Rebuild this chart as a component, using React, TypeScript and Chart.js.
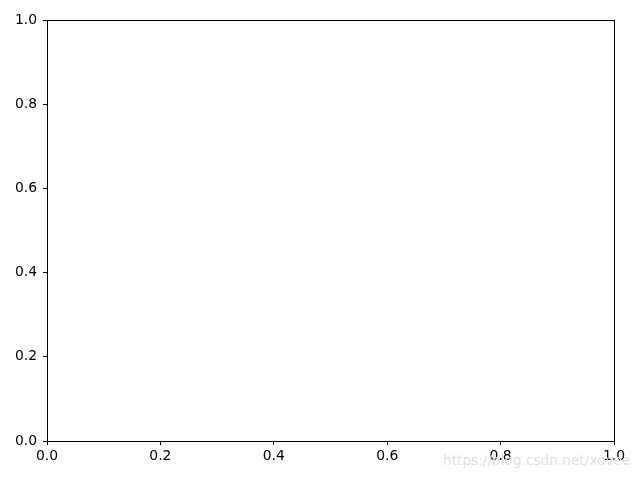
import React, { useRef, useEffect } from 'react'
import { Chart, registerables } from 'chart.js'

Chart.register(...registerables)

// empty axes: only the limits and tick step
const xRange = [0, 1]
const yRange = [0, 1]
const tickStep = 0.2
const points: { x: number; y: number }[] = []
const watermark = 'https://blog.csdn.net/xovee'

const framePlugin = {
  id: 'frame',
  afterDraw(chart: Chart) {
    const { ctx, chartArea } = chart
    ctx.save()
    ctx.strokeStyle = '#000'
    ctx.lineWidth = 1
    ctx.strokeRect(
      Math.round(chartArea.left) + 0.5,
      Math.round(chartArea.top) + 0.5,
      Math.round(chartArea.right - chartArea.left),
      Math.round(chartArea.bottom - chartArea.top)
    )
    ctx.restore()
  },
}

const App: React.FC = () => {
  const canvasRef = useRef<HTMLCanvasElement>(null)

  useEffect(() => {
    if (!canvasRef.current) return
    const ctx = canvasRef.current.getContext('2d')
    if (!ctx) return

    const font = { family: 'DejaVu Sans', size: 13.9 }
    const axisCommon = {
      type: 'linear' as const,
      grid: {
        display: true,
        drawOnChartArea: false,
        drawTicks: true,
        tickLength: 4,
        tickColor: '#000',
        tickWidth: 1,
      },
      border: { display: true, color: '#000', width: 1 },
    }

    const chart = new Chart(ctx, {
      type: 'scatter',
      data: { datasets: [{ data: points }] },
      plugins: [framePlugin],
      options: {
        animation: false,
        responsive: false,
        layout: { padding: { top: 20, right: 26, left: 0, bottom: 0 } },
        plugins: { legend: { display: false }, tooltip: { enabled: false } },
        scales: {
          x: {
            ...axisCommon,
            min: xRange[0],
            max: xRange[1],
            afterFit: (s: any) => {
              s.height = 39
            },
            ticks: {
              stepSize: tickStep,
              color: '#000',
              font,
              padding: 3,
              maxRotation: 0,
              callback: (v: any) => Number(v).toFixed(1),
            },
          },
          y: {
            ...axisCommon,
            min: yRange[0],
            max: yRange[1],
            afterFit: (s: any) => {
              s.width = 47
            },
            ticks: {
              stepSize: tickStep,
              color: '#000',
              font,
              padding: 6,
              callback: (v: any) => Number(v).toFixed(1),
            },
          },
        },
      },
    })

    return () => {
      chart.destroy()
    }
  }, [])

  return (
    <div style={{ position: 'fixed', left: 0, top: 0, width: 640, height: 480, background: '#fff' }}>
      <canvas ref={canvasRef} width={640} height={480} style={{ width: 640, height: 480, display: 'block' }} />
      <div
        style={{
          position: 'absolute',
          left: 443,
          top: 452,
          fontFamily: 'DejaVu Sans',
          fontSize: 13.7,
          color: '#e0e0e0',
          whiteSpace: 'nowrap',
        }}
      >
        {watermark}
      </div>
    </div>
  )
}

export default App
